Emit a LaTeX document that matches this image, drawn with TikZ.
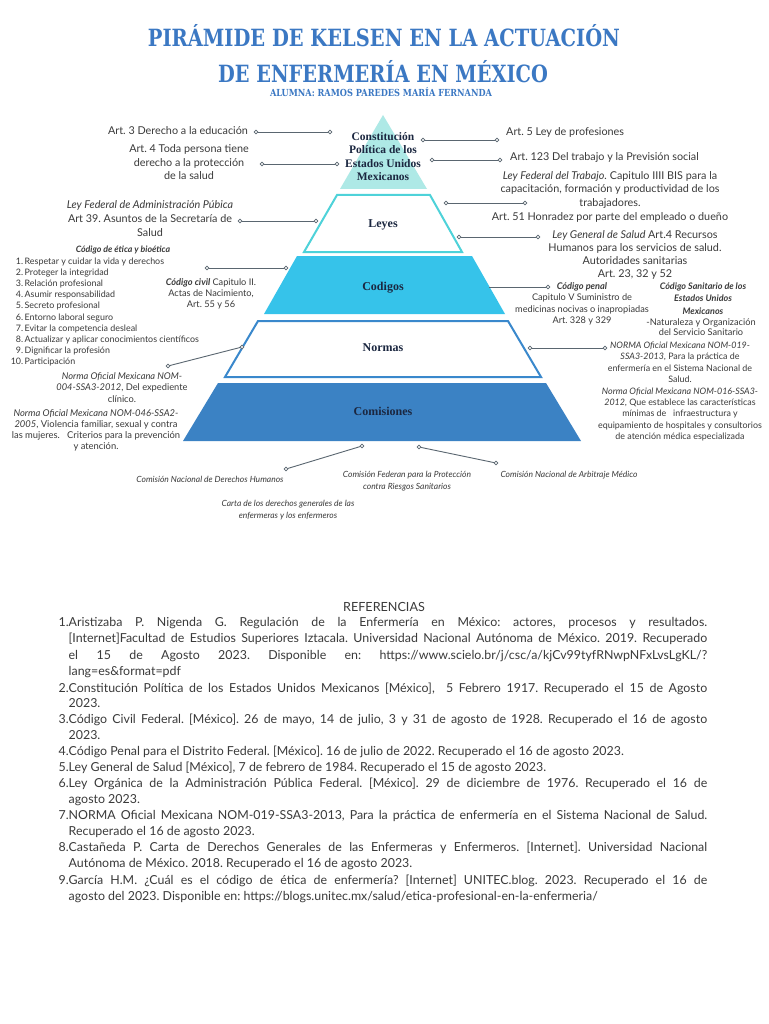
\documentclass[tikz,border=0pt]{standalone}
\usepackage{graphicx}
\usepackage{fontspec}
\setmainfont{Lato}
\newfontfamily\titlefont{DejaVu Serif}
\newfontfamily\pyrfont{Liberation Serif}
\definecolor{titleblue}{HTML}{3B78C3}
\definecolor{txtgray}{HTML}{3A3A3A}
\definecolor{linegray}{HTML}{5A6670}
\definecolor{aqua}{HTML}{AEE9E6}
\definecolor{leyline}{HTML}{4ED2D9}
\definecolor{cyanfill}{HTML}{36C3EA}
\definecolor{normline}{HTML}{3A88CC}
\definecolor{comfill}{HTML}{3B82C4}
\definecolor{navy}{HTML}{1B2740}
\newsavebox\jlbox
\newcommand\jl[1]{\sbox\jlbox{#1}\ifdim\wd\jlbox>638.5pt \resizebox{638.5pt}{\height}{\usebox\jlbox}\else\makebox[638.5pt][s]{#1}\fi}
\newcommand\nb[1]{\makebox[10pt][l]{#1}}
\frenchspacing
\begin{document}
\begin{tikzpicture}[x=1pt,y=-1pt,
  lab/.style={inner sep=0, text=txtgray, align=center, font=\fontsize{10.8}{13.5}\selectfont},
  sml/.style={inner sep=0, text=txtgray, align=center, font=\fontsize{9.2}{11}\selectfont},
  dot/.style={circle, draw=linegray, fill=white, line width=0.7pt, inner sep=0, minimum size=3.6pt},
  conn/.style={draw=linegray, line width=0.9pt},
  pyr/.style={inner sep=0, text=navy, align=center, font=\pyrfont\bfseries\fontsize{12}{13.5}\selectfont},
  rf/.style={anchor=base west, inner sep=0, text=txtgray, font=\fontsize{12.4}{16}\selectfont}]
\useasboundingbox[fill=white] (0,0) rectangle (768,1024);

% title
\node[anchor=base, inner sep=0, text=titleblue, font=\titlefont\bfseries] (t1) at (384,47) {\resizebox{472pt}{22pt}{PIRÁMIDE DE KELSEN EN LA ACTUACIÓN}};
\node[anchor=base, inner sep=0, text=titleblue, font=\titlefont\bfseries] (t2) at (383,83) {\resizebox{330pt}{22pt}{DE ENFERMERÍA EN MÉXICO}};
\node[anchor=base, inner sep=0, text=titleblue, font=\titlefont\bfseries] (t3) at (381,96.5) {\resizebox{222pt}{9pt}{ALUMNA: RAMOS PAREDES MARÍA FERNANDA}};

% pyramid
\fill[aqua] (383,115) -- (427,189) -- (340,189) -- cycle;
\draw[leyline, line width=2pt] (337,195) -- (430,195) -- (462,252) -- (304,252) -- cycle;
\fill[cyanfill] (297,256) -- (472,256) -- (505,314) -- (264,314) -- cycle;
\draw[normline, line width=2pt] (258,321) -- (508,321) -- (541,377) -- (225,377) -- cycle;
\fill[comfill] (218,383) -- (546,383) -- (581,441) -- (183,441) -- cycle;

\node[pyr, font=\pyrfont\bfseries\fontsize{11.5}{13.5}\selectfont] (pC) at (383,156.5) {Constitución\\Política de los\\Estados Unidos\\Mexicanos};
\node[pyr] (pL) at (383,225) {Leyes};
\node[pyr] (pCo) at (383,288) {Codigos};
\node[pyr] (pN) at (383,348) {Normas};
\node[pyr] (pCm) at (383,411) {Comisiones};

% connectors left
\node[dot] (c1a) at (256,132) {}; \node[dot] (c1b) at (330,132) {};
\node[dot] (c2a) at (262,164) {}; \node[dot] (c2b) at (337,164) {};
\node[dot] (c3a) at (240,221) {}; \node[dot] (c3b) at (316,221) {};
\node[dot] (c4a) at (207,268) {}; \node[dot] (c4b) at (286,268) {};
\node[dot] (c5a) at (168,366) {}; \node[dot] (c5b) at (242,347) {};
% connectors right
\node[dot] (d1a) at (423,140) {}; \node[dot] (d1b) at (497,140) {};
\node[dot] (d2a) at (432,160) {}; \node[dot] (d2b) at (500,160) {};
\node[dot] (d3a) at (446,203) {}; \node[dot] (d3b) at (525,203) {};
\node[dot] (d4a) at (459,237) {}; \node[dot] (d4b) at (538,237) {};
\coordinate (d5a) at (489,287); \node[dot] (d5b) at (548,287) {};
\node[dot] (d6a) at (530,348) {}; \node[dot] (d6b) at (605,348) {};
% connectors bottom
\node[dot] (b1a) at (362,446) {}; \node[dot] (b1b) at (286,469) {};
\node[dot] (b2a) at (419,447) {}; \node[dot] (b2b) at (496,463) {};

\draw[conn] (c1a) -- (c1b); \draw[conn] (c2a) -- (c2b); \draw[conn] (c3a) -- (c3b);
\draw[conn] (c4a) -- (c4b); \draw[conn] (c5a) -- (c5b);
\draw[conn] (d1a) -- (d1b); \draw[conn] (d2a) -- (d2b); \draw[conn] (d3a) -- (d3b);
\draw[conn] (d4a) -- (d4b); \draw[conn] (d5a) -- (d5b); \draw[conn] (d6a) -- (d6b);
\draw[conn] (b1a) -- (b1b); \draw[conn] (b2a) -- (b2b);

% left texts
\node[lab, anchor=base] (tA3) at (178,134.5) {Art. 3 Derecho a la educación};
\node[lab] (tA4) at (189,162.5) {Art. 4 Toda persona tiene\\derecho a la protección\\de la salud};
\node[lab, font=\fontsize{10.8}{14}\selectfont] (tLF) at (150,219) {\textit{Ley Federal de Administración Púbica}\\Art 39. Asuntos de la Secretaría de\\Salud};
\node[sml, font=\bfseries\itshape\fontsize{8.8}{10}\selectfont] (tCE) at (123,250) {Código de ética y bioética};
\node[sml, align=left, anchor=west, font=\fontsize{8.9}{11.1}\selectfont] (tlist) at (8,312) {\makebox[15pt][r]{1.}\,Respetar y cuidar la vida y derechos\\
\makebox[15pt][r]{2.}\,Proteger la integridad\\
\makebox[15pt][r]{3.}\,Relación profesional\\
\makebox[15pt][r]{4.}\,Asumir responsabilidad\\
\makebox[15pt][r]{5.}\,Secreto profesional\\
\makebox[15pt][r]{6.}\,Entorno laboral seguro\\
\makebox[15pt][r]{7.}\,Evitar la competencia desleal\\
\makebox[15pt][r]{8.}\,Actualizar y aplicar conocimientos científicos\\
\makebox[15pt][r]{9.}\,Dignificar la profesión\\
\makebox[15pt][r]{10.}\,Participación};
\node[sml] (tCC) at (211,294) {\textbf{\textit{Código civil}} Capitulo II.\\Actas de Nacimiento,\\Art. 55 y 56};
\node[sml, font=\fontsize{9.3}{11.5}\selectfont] (tN4) at (122,387.5) {\textit{Norma Oficial Mexicana NOM-}\\\textit{004-SSA3-2012}, Del expediente\\clínico.};
\node[sml, font=\fontsize{9.4}{11}\selectfont] (tN46) at (96,430.5) {\textit{Norma Oficial Mexicana NOM-046-SSA2-}\\\textit{2005}, Violencia familiar, sexual y contra\\las mujeres.\ \ \ Criterios para la prevención\\y atención.};

% right texts
\node[lab, anchor=base west] (tA5) at (506,136) {Art. 5 Ley de profesiones};
\node[lab, anchor=base west] (tA123) at (510,160.5) {Art. 123 Del trabajo y la Previsión social};
\node[lab, font=\fontsize{10.8}{13.7}\selectfont] (tLFT) at (610,196.5) {\textit{Ley Federal del Trabajo.} Capitulo IIII BIS para la\\capacitación, formación y productividad de los\\trabajadores.\\Art. 51 Honradez por parte del empleado o dueño};
\node[lab, font=\fontsize{10.8}{13}\selectfont] (tLGS) at (635,254.5) {\textit{Ley General de Salud} Art.4 Recursos\\Humanos para los servicios de salud.\\Autoridades sanitarias\\Art. 23, 32 y 52};
\node[sml, font=\fontsize{9.2}{11.3}\selectfont] (tCP) at (582,304) {\textbf{\textit{Código penal}}\\Capitulo V Suministro de\\medicinas nocivas o inapropiadas\\Art. 328 y 329};
\node[sml, font=\bfseries\itshape\fontsize{9}{12.5}\selectfont] (tCS) at (703,298.5) {Código Sanitario de los\\Estados Unidos\\Mexicanos};
\node[sml, font=\fontsize{9.2}{10.5}\selectfont] (tCS2) at (701,327) {-Naturaleza y Organización\\del Servicio Sanitario};
\node[sml, font=\fontsize{8.9}{11.4}\selectfont] (tN19) at (680,391.5) {\textit{NORMA Oficial Mexicana NOM-019-}\\\textit{SSA3-2013}, Para la práctica de\\enfermería en el Sistema Nacional de\\Salud.\\\textit{Norma Oficial Mexicana NOM-016-SSA3-}\\\textit{2012}, Que establece las características\\mínimas de\ \ \ infraestructura y\\equipamiento de hospitales y consultorios\\de atención médica especializada};

% bottom texts
\node[sml, font=\itshape\fontsize{8.5}{12}\selectfont] (bl1) at (210,479) {Comisión Nacional de Derechos Humanos};
\node[sml, font=\itshape\fontsize{8.5}{12}\selectfont] (bl2) at (407,481) {Comisión Federan para la Protección\\contra Riesgos Sanitarios};
\node[sml, font=\itshape\fontsize{8.5}{12}\selectfont] (bl3) at (569,475) {Comisión Nacional de Arbitraje Médico};
\node[sml, font=\itshape\fontsize{8.5}{12}\selectfont] (bl4) at (288,510) {Carta de los derechos generales de las\\enfermeras y los enfermeros};

% references
\node[inner sep=0, text=txtgray, font=\fontsize{12.6}{14}\selectfont] (refh) at (384,607) {REFERENCIAS};
\node[rf] (r1a) at (58.5,626) {\nb{1.}\jl{Aristizaba P. Nigenda G. Regulación de la Enfermería en México: actores, procesos y resultados.}};
\node[rf] (r1b) at (68.5,642) {\jl{[Internet]Facultad de Estudios Superiores Iztacala. Universidad Nacional Autónoma de México. 2019. Recuperado}};
\node[rf] (r1c) at (68.5,659) {\jl{el 15 de Agosto 2023. Disponible en: https://www.scielo.br/j/csc/a/kjCv99tyfRNwpNFxLvsLgKL/?}};
\node[rf] (r1d) at (68.5,675) {lang=es\&format=pdf};
\node[rf] (r2a) at (58.5,692) {\nb{2.}\jl{Constitución Política de los Estados Unidos Mexicanos [México],\ \ 5 Febrero 1917. Recuperado el 15 de Agosto}};
\node[rf] (r2b) at (68.5,707) {2023.};
\node[rf] (r3a) at (58.5,723) {\nb{3.}\jl{Código Civil Federal. [México]. 26 de mayo, 14 de julio, 3 y 31 de agosto de 1928. Recuperado el 16 de agosto}};
\node[rf] (r3b) at (68.5,739) {2023.};
\node[rf] (r4) at (58.5,755) {\nb{4.}Código Penal para el Distrito Federal. [México]. 16 de julio de 2022. Recuperado el 16 de agosto 2023.};
\node[rf] (r5) at (58.5,771) {\nb{5.}Ley General de Salud [México], 7 de febrero de 1984. Recuperado el 15 de agosto 2023.};
\node[rf] (r6a) at (58.5,787) {\nb{6.}\jl{Ley Orgánica de la Administración Pública Federal. [México]. 29 de diciembre de 1976. Recuperado el 16 de}};
\node[rf] (r6b) at (68.5,803) {agosto 2023.};
\node[rf] (r7a) at (58.5,819) {\nb{7.}\jl{NORMA Oficial Mexicana NOM-019-SSA3-2013, Para la práctica de enfermería en el Sistema Nacional de Salud.}};
\node[rf] (r7b) at (68.5,835) {Recuperado el 16 de agosto 2023.};
\node[rf] (r8a) at (58.5,851) {\nb{8.}\jl{Castañeda P. Carta de Derechos Generales de las Enfermeras y Enfermeros. [Internet]. Universidad Nacional}};
\node[rf] (r8b) at (68.5,867) {Autónoma de México. 2018. Recuperado el 16 de agosto 2023.};
\node[rf] (r9a) at (58.5,884) {\nb{9.}\jl{García H.M. ¿Cuál es el código de ética de enfermería? [Internet] UNITEC.blog. 2023. Recuperado el 16 de}};
\node[rf] (r9b) at (68.5,900) {agosto del 2023. Disponible en: https://blogs.unitec.mx/salud/etica-profesional-en-la-enfermeria/};
\end{tikzpicture}
\end{document}
